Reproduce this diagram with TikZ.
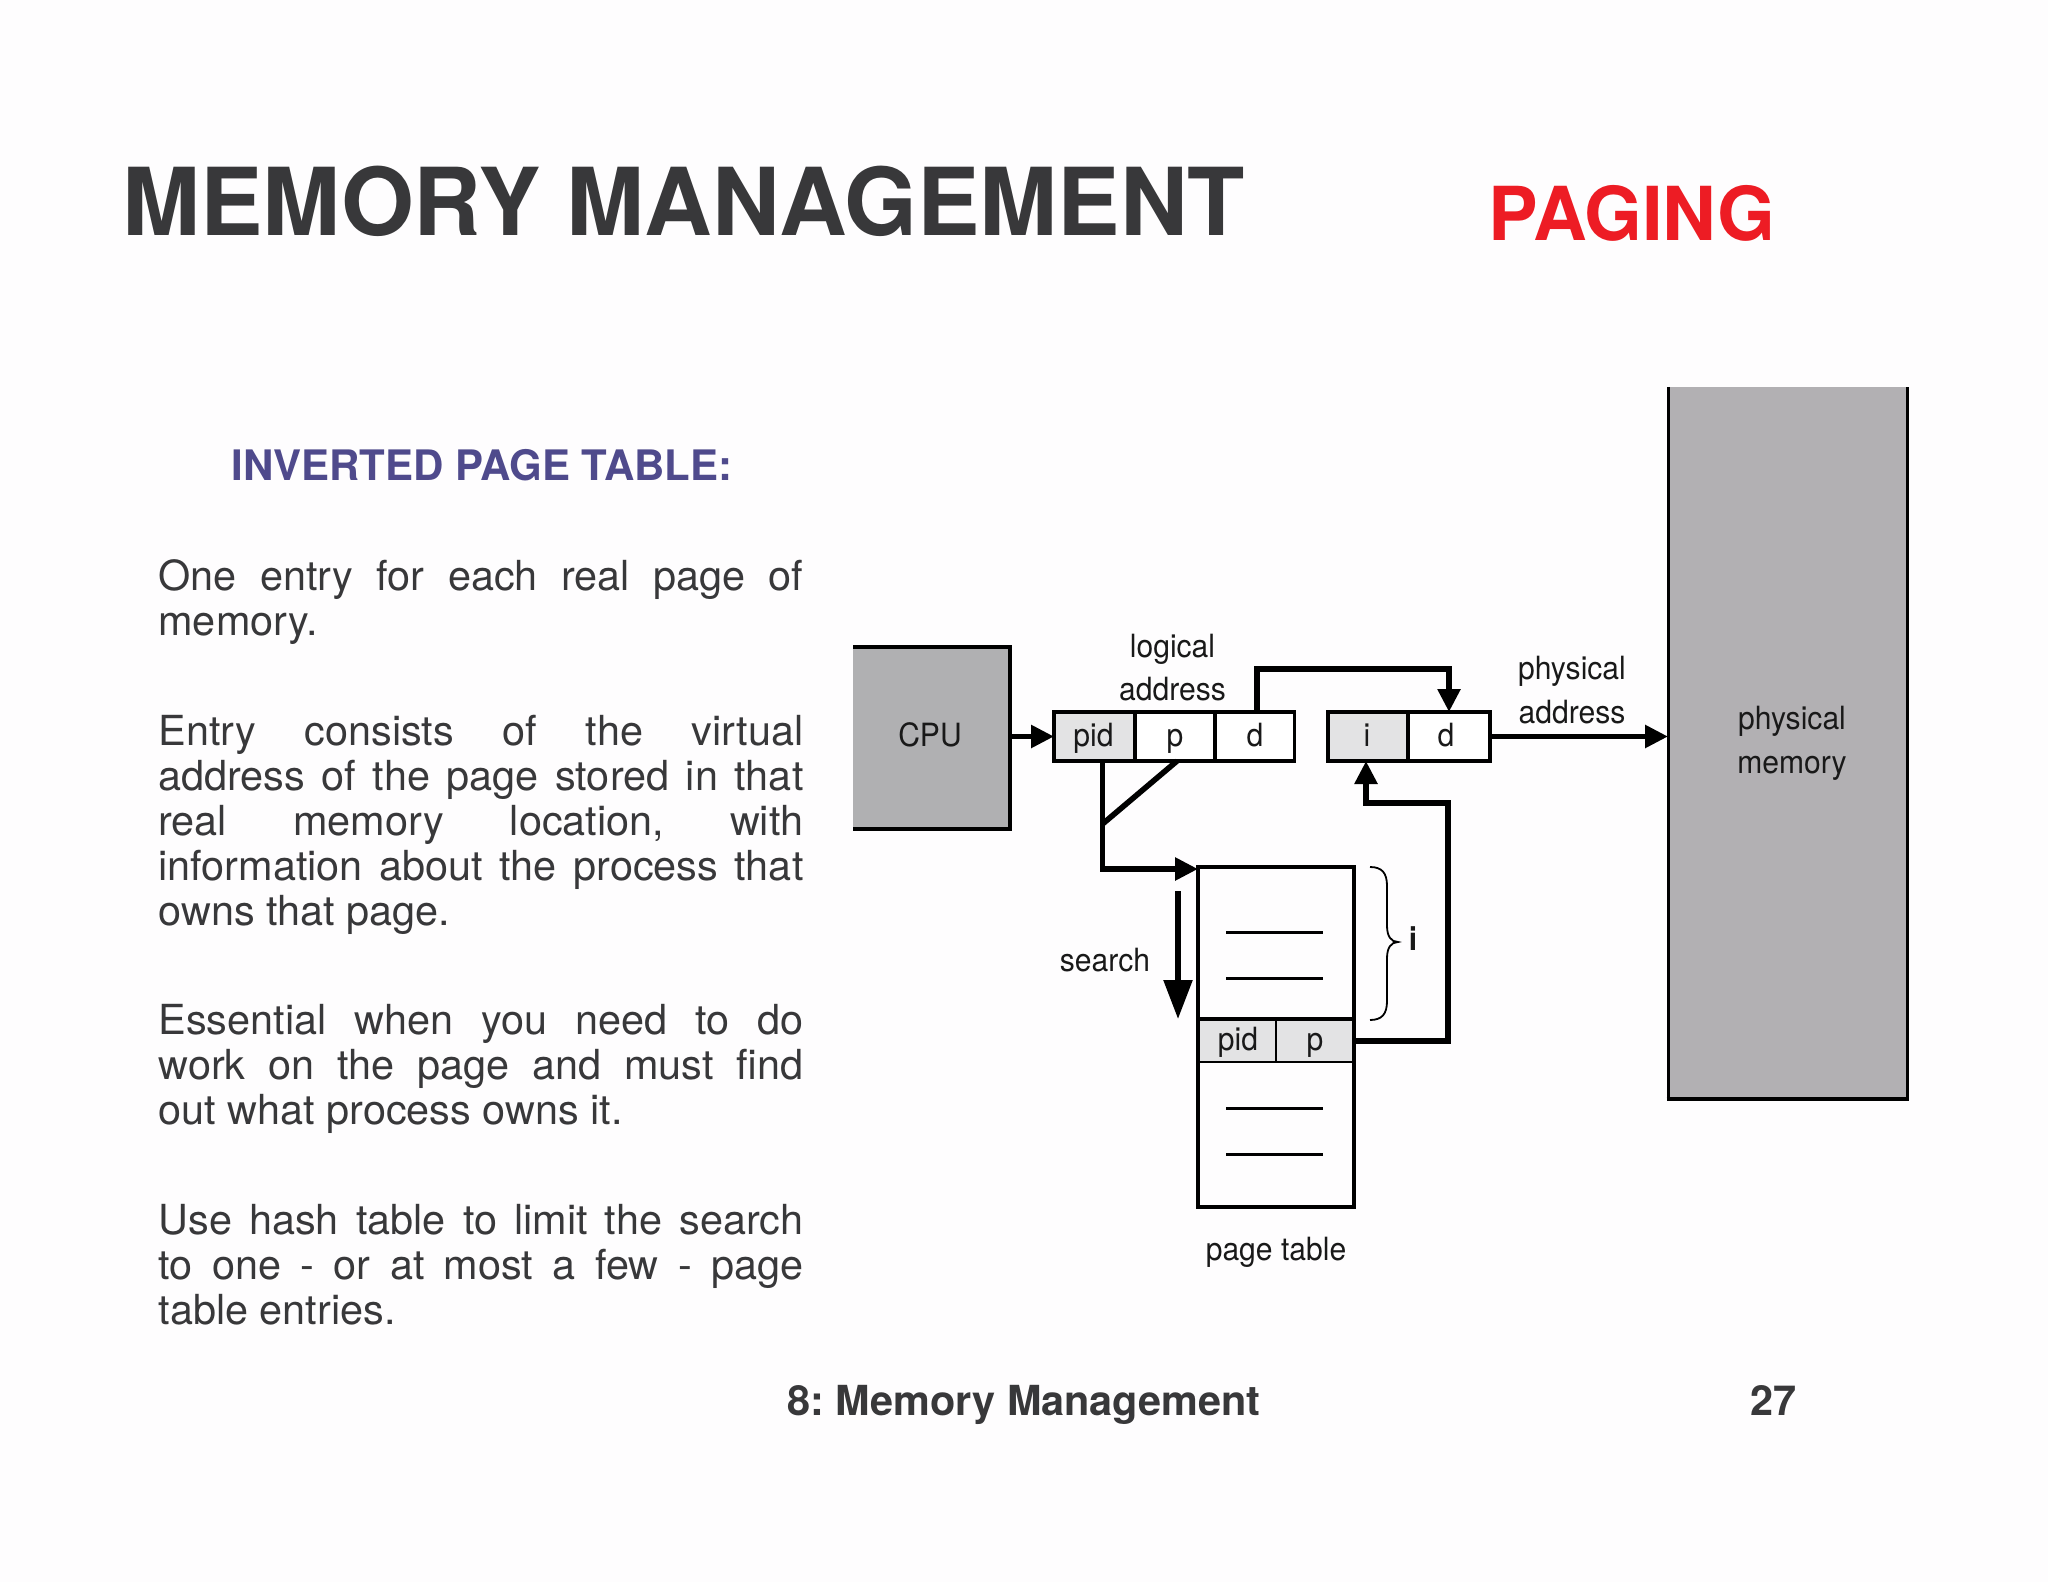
\documentclass[tikz,border=0pt]{standalone}
\usepackage{fontspec}
\setmainfont{TeX Gyre Heros}
\newfontfamily\lblfont[FakeStretch=0.94]{TeX Gyre Heros}
\usetikzlibrary{arrows.meta,calc}
\definecolor{ink}{HTML}{38383A}
\definecolor{red1}{HTML}{ED1C24}
\definecolor{indigo1}{HTML}{4F4A8C}
\definecolor{grayA}{HTML}{B0B0B2}
\definecolor{grayB}{HTML}{B2B0B3}
\definecolor{cellg}{HTML}{E3E3E4}
\definecolor{paper}{HTML}{FEFDFE}
\tikzset{
 lab/.style={anchor=base,inner sep=0pt,outer sep=0pt,text=black!90,font=\lblfont\fontsize{16}{18}\selectfont},
 para/.style={anchor=north west,inner sep=0pt,outer sep=0pt,text width=322.5pt,align=justify,text=ink,font=\fontsize{20.7}{22.5}\selectfont\frenchspacing},
 cell/.style={draw=black,line width=1.75pt,inner sep=0pt,outer sep=0pt,minimum height=24.5pt,fill=white},
 thickline/.style={draw=black,line width=2.8pt,line cap=butt,line join=miter},
 headA/.style={-{Triangle[length=11.5pt,width=11pt]}},
 headB/.style={-{Triangle[length=19.5pt,width=14pt]}},
 thin1/.style={draw=black,line width=1.5pt},
}
\newcommand{\lead}{\rule{0pt}{20pt}}
\begin{document}
\begin{tikzpicture}[x=0.5pt,y=-0.5pt]
\useasboundingbox (0,0) rectangle (2048,1582);
\fill[paper] (0,0) rectangle (2048,1582);
% headings
\node[anchor=base west,inner sep=0pt,text=ink,font=\fontsize{46.85}{50}\selectfont\bfseries] (title) at (122,236) {MEMORY MANAGEMENT};
\node[anchor=base west,inner sep=0pt,text=red1,font=\fontsize{37.2}{40}\selectfont\bfseries] (paging) at (1488,241) {PAGING};
\node[anchor=base west,inner sep=0pt,text=indigo1,font=\fontsize{21}{24}\selectfont\bfseries] (head) at (231,481) {INVERTED PAGE TABLE:};
% paragraphs
\node[para] (p1) at (158.5,550) {\lead One entry for each real page of\linebreak memory.};
\node[para] (p2) at (158.5,705) {\lead Entry consists of the virtual\linebreak address of the page stored in that\linebreak real memory location, with\linebreak information about the process that\linebreak owns that page.};
\node[para] (p3) at (158.5,994) {\lead Essential when you need to do\linebreak work on the page and must find\linebreak out what process owns it.};
\node[para] (p4) at (158.5,1194) {\lead Use hash table to limit the search\linebreak to one - or at most a few - page\linebreak table entries.};
% footer
\node[anchor=base west,inner sep=0pt,text=ink,font=\fontsize{20.7}{24}\selectfont\bfseries\frenchspacing] (foot) at (787,1415) {8: Memory Management};
\node[anchor=base west,inner sep=0pt,text=ink,font=\fontsize{20.7}{24}\selectfont\bfseries] (num) at (1750,1415) {27};
% CPU
\node[fill=grayA,inner sep=0pt,outer sep=0pt,minimum width=78.5pt,minimum height=91pt] (cpu) at (931.5,738) {};
\draw[black,line width=1.75pt] (cpu.north west) -- (cpu.north east) -- (cpu.south east) -- (cpu.south west);
\draw[black,line width=2.2pt] (cpu.north west) -- (cpu.north east);
\node[lab] (cputxt) at (930,746) {CPU};
% physical memory
\node[fill=grayB,inner sep=0pt,outer sep=0pt,minimum width=119.5pt,minimum height=356pt] (mem) at (1787.5,743) {};
\draw[black,line width=1.5pt] (mem.north west) -- (mem.south west) (mem.south east) -- (mem.north east);
\draw[black,line width=1.7pt] ([xshift=-0.75pt]mem.south west) -- ([xshift=0.75pt]mem.south east);
\node[lab] (memt1) at (1792,729) {physical};
\node[lab] (memt2) at (1792,773) {memory};
% logical address
\node[cell,fill=cellg,minimum width=40.5pt] (pid) at (1094.5,736.5) {};
\node[cell,minimum width=40pt] (p) at (1175,736.5) {};
\node[cell,minimum width=39.75pt] (d) at (1254.75,736.5) {};
\node[lab] at (1093.5,746) {pid};
\node[lab] at (1175,746) {p};
\node[lab] at (1255,746) {d};
\node[lab] (la1) at (1172.5,657) {logical};
\node[lab] (la2) at (1172.5,700) {address};
% physical address
\node[cell,fill=cellg,minimum width=40pt] (ii) at (1368,736.5) {};
\node[cell,minimum width=41pt] (dd) at (1449,736.5) {};
\node[lab] at (1367,746) {i};
\node[lab] at (1446,746) {d};
\node[lab] (pa1) at (1572,679) {physical};
\node[lab] (pa2) at (1572,723) {address};
% page table
\node[draw=black,line width=1.75pt,inner sep=0pt,outer sep=0pt,minimum width=78pt,minimum height=170pt] (tbl) at (1276,1037) {};
\node[cell,fill=cellg,line width=1.3pt,minimum width=39pt,minimum height=21.5pt] (tpid) at (1237,1040.5) {};
\node[cell,fill=cellg,line width=1.3pt,minimum width=39pt,minimum height=21.5pt] (tp) at (1315,1040.5) {};
\draw[black,line width=1.75pt] (tpid.north west) -- (tp.north east);
\draw[black,line width=1.75pt] (tbl.north east) -- (tbl.south east) (tbl.north west) -- (tbl.south west);
\node[lab] at (1238,1050) {pid};
\node[lab] at (1315,1050) {p};
\draw[thin1] (1226,932) -- (1323,932);
\draw[thin1] (1226,978) -- (1323,978);
\draw[thin1] (1226,1108) -- (1323,1108);
\draw[thin1] (1226,1154) -- (1323,1154);
\node[lab] (tbltxt) at (1276,1260) {page table};
\node[lab] (srch) at (1105,971) {search};
% brace
\draw[black,line width=0.9pt] (1370,867) .. controls (1382,867) and (1387,873) .. (1387,886) -- (1387,926) .. controls (1387,936) and (1391,942) .. (1398,942) .. controls (1391,942) and (1387,948) .. (1387,958) -- (1387,1001) .. controls (1387,1014) and (1382,1020) .. (1370,1020);
\node[lab,font=\lblfont\fontsize{16}{18}\selectfont\bfseries] (itxt) at (1413,950) {i};
% connectors
\draw[thickline,headA] (cpu.east |- pid.west) -- (pid.west);
\coordinate (toprun) at (1256.5,669);
\coordinate (dout) at ($(d.north)+(2,0)$);
\draw[thickline,headA] (dout) -- (dout |- toprun) -| (dd.north);
\draw[thickline,headA] (dd.east) -- (mem.west |- dd.east);
\coordinate (pidout) at ($(pid.south)+(8,0)$);
\coordinate (corner) at (1102.5,869);
\coordinate (tblin) at (1198,869);
\draw[thickline,headA] (pidout) -- (corner) -- (tblin);
\coordinate (join) at (1102.5,824);
\draw[thickline] ($(p.south)+(2,0)$) -- (join);
\coordinate (retout) at (1354,1041);
\coordinate (retr) at (1448,1041);
\coordinate (reta) at (1448,803);
\coordinate (iin) at ($(ii.south)+(-2,0)$);
\draw[thickline,headA] (retout) -- (retr) -- (reta) -| (iin);
\coordinate (s1) at (1178,891);
\coordinate (s2) at (1178,1019);
\draw[thickline,headB] (s1) -- (s2);
\end{tikzpicture}
\end{document}
